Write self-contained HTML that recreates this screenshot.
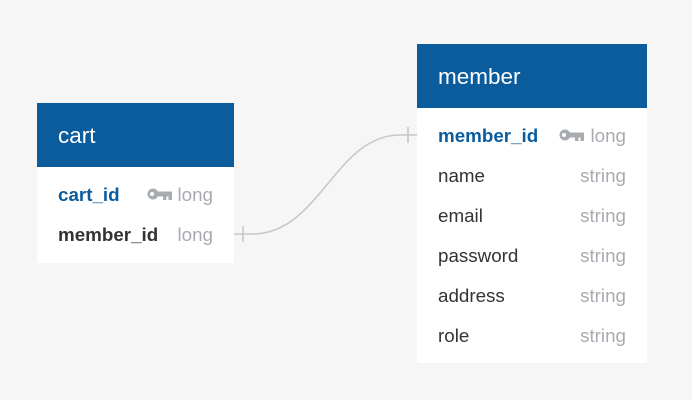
<!DOCTYPE html>
<html><head><meta charset="utf-8"><style>
body{margin:0;width:692px;height:400px;background:#f5f6f5;position:relative;overflow:hidden;font-family:"Liberation Sans",Arial,sans-serif}
.box{position:absolute;background:#fff}
.hd{position:absolute;left:0;top:0;right:0;height:64px;background:#0b5c9d;color:#fff;font-size:22.5px;line-height:66px;padding-left:21px}
.r{position:absolute;left:21px;right:21px;height:24px;font-size:18.8px;line-height:26px;color:#333}
.r .t{position:absolute;right:0;top:0;color:#a8acb0}
.pk{color:#0b5c9d;font-weight:bold}
.k{position:absolute;top:6px;width:25px;height:13px}
</style></head><body>
<svg style="position:absolute;left:0;top:0" width="692" height="400">
<path d="M234 234 L252 234 C320 234 335 135 400 135 L417 135" fill="none" stroke="#c8c8c8" stroke-width="1.6"/>
<line x1="243" y1="226" x2="243" y2="242" stroke="#c8c8c8" stroke-width="1.6"/>
<line x1="408" y1="127" x2="408" y2="143" stroke="#c8c8c8" stroke-width="1.6"/>
</svg>
<div class="box" style="left:37px;top:103px;width:197px;height:160px">
<div class="hd">cart</div>
<div class="r" style="top:79px"><span class="pk">cart_id</span>
<svg class="k" style="right:41px" viewBox="0 0 25 13"><circle cx="6" cy="6" r="5.5" fill="#a8acb0"/><circle cx="5" cy="6" r="2" fill="#fff"/><rect x="10" y="3.5" width="15" height="5" fill="#a8acb0"/><rect x="16" y="6" width="3.5" height="6" fill="#a8acb0"/><rect x="21.5" y="6" width="3.5" height="6" fill="#a8acb0"/></svg>
<span class="t">long</span></div>
<div class="r" style="top:119px"><span style="font-weight:bold">member_id</span><span class="t">long</span></div>
</div>
<div class="box" style="left:417px;top:44px;width:230px;height:319px">
<div class="hd">member</div>
<div class="r" style="top:79px"><span class="pk">member_id</span>
<svg class="k" style="right:42px" viewBox="0 0 25 13"><circle cx="6" cy="6" r="5.5" fill="#a8acb0"/><circle cx="5" cy="6" r="2" fill="#fff"/><rect x="10" y="3.5" width="15" height="5" fill="#a8acb0"/><rect x="16" y="6" width="3.5" height="6" fill="#a8acb0"/><rect x="21.5" y="6" width="3.5" height="6" fill="#a8acb0"/></svg>
<span class="t">long</span></div>
<div class="r" style="top:119px">name<span class="t">string</span></div>
<div class="r" style="top:159px">email<span class="t">string</span></div>
<div class="r" style="top:199px">password<span class="t">string</span></div>
<div class="r" style="top:239px">address<span class="t">string</span></div>
<div class="r" style="top:279px">role<span class="t">string</span></div>
</div>
</body></html>
